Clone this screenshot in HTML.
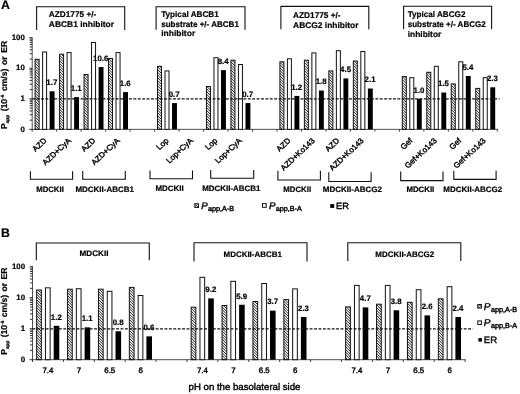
<!DOCTYPE html>
<html><head><meta charset="utf-8"><title>Figure</title>
<style>
html,body{margin:0;padding:0;background:#fff;}
svg{display:block;}
text{font-family:"Liberation Sans",Arial,sans-serif;fill:#000;text-rendering:geometricPrecision;}
</style></head><body>
<svg width="520" height="394" viewBox="0 0 520 394">
<defs><clipPath id="hc"><rect x="35.10" y="59.30" width="4.00" height="70.05"/><rect x="59.58" y="54.20" width="4.00" height="75.15"/><rect x="84.06" y="74.50" width="4.00" height="54.85"/><rect x="108.54" y="58.50" width="4.00" height="70.85"/><rect x="157.50" y="66.30" width="4.00" height="63.05"/><rect x="206.46" y="86.50" width="4.00" height="42.85"/><rect x="230.94" y="60.20" width="4.00" height="69.15"/><rect x="279.90" y="61.80" width="4.00" height="67.55"/><rect x="304.38" y="60.20" width="4.00" height="69.15"/><rect x="328.86" y="70.90" width="4.00" height="58.45"/><rect x="353.34" y="61.00" width="4.00" height="68.35"/><rect x="402.30" y="76.60" width="4.00" height="52.75"/><rect x="426.78" y="72.30" width="4.00" height="57.05"/><rect x="451.26" y="83.90" width="4.00" height="45.45"/><rect x="475.74" y="88.40" width="4.00" height="40.95"/><rect x="194.80" y="203.75" width="3.70" height="3.70"/><rect x="36.65" y="290.00" width="4.70" height="69.70"/><rect x="67.55" y="289.20" width="4.70" height="70.50"/><rect x="98.45" y="289.20" width="4.70" height="70.50"/><rect x="129.35" y="287.40" width="4.70" height="72.30"/><rect x="191.15" y="307.20" width="4.70" height="52.50"/><rect x="222.05" y="305.50" width="4.70" height="54.20"/><rect x="252.95" y="301.50" width="4.70" height="58.20"/><rect x="283.85" y="299.60" width="4.70" height="60.10"/><rect x="345.65" y="306.90" width="4.70" height="52.80"/><rect x="376.55" y="304.20" width="4.70" height="55.50"/><rect x="407.45" y="302.30" width="4.70" height="57.40"/><rect x="438.35" y="298.80" width="4.70" height="60.90"/><rect x="477.80" y="304.50" width="3.60" height="3.60"/></clipPath></defs>
<rect width="520" height="394" fill="#fff"/>
<path d="M0 -520.00L520 0.00M0 -517.30L520 2.70M0 -514.60L520 5.40M0 -511.90L520 8.10M0 -509.20L520 10.80M0 -506.50L520 13.50M0 -503.80L520 16.20M0 -501.10L520 18.90M0 -498.40L520 21.60M0 -495.70L520 24.30M0 -493.00L520 27.00M0 -490.30L520 29.70M0 -487.60L520 32.40M0 -484.90L520 35.10M0 -482.20L520 37.80M0 -479.50L520 40.50M0 -476.80L520 43.20M0 -474.10L520 45.90M0 -471.40L520 48.60M0 -468.70L520 51.30M0 -466.00L520 54.00M0 -463.30L520 56.70M0 -460.60L520 59.40M0 -457.90L520 62.10M0 -455.20L520 64.80M0 -452.50L520 67.50M0 -449.80L520 70.20M0 -447.10L520 72.90M0 -444.40L520 75.60M0 -441.70L520 78.30M0 -439.00L520 81.00M0 -436.30L520 83.70M0 -433.60L520 86.40M0 -430.90L520 89.10M0 -428.20L520 91.80M0 -425.50L520 94.50M0 -422.80L520 97.20M0 -420.10L520 99.90M0 -417.40L520 102.60M0 -414.70L520 105.30M0 -412.00L520 108.00M0 -409.30L520 110.70M0 -406.60L520 113.40M0 -403.90L520 116.10M0 -401.20L520 118.80M0 -398.50L520 121.50M0 -395.80L520 124.20M0 -393.10L520 126.90M0 -390.40L520 129.60M0 -387.70L520 132.30M0 -385.00L520 135.00M0 -382.30L520 137.70M0 -379.60L520 140.40M0 -376.90L520 143.10M0 -374.20L520 145.80M0 -371.50L520 148.50M0 -368.80L520 151.20M0 -366.10L520 153.90M0 -363.40L520 156.60M0 -360.70L520 159.30M0 -358.00L520 162.00M0 -355.30L520 164.70M0 -352.60L520 167.40M0 -349.90L520 170.10M0 -347.20L520 172.80M0 -344.50L520 175.50M0 -341.80L520 178.20M0 -339.10L520 180.90M0 -336.40L520 183.60M0 -333.70L520 186.30M0 -331.00L520 189.00M0 -328.30L520 191.70M0 -325.60L520 194.40M0 -322.90L520 197.10M0 -320.20L520 199.80M0 -317.50L520 202.50M0 -314.80L520 205.20M0 -312.10L520 207.90M0 -309.40L520 210.60M0 -306.70L520 213.30M0 -304.00L520 216.00M0 -301.30L520 218.70M0 -298.60L520 221.40M0 -295.90L520 224.10M0 -293.20L520 226.80M0 -290.50L520 229.50M0 -287.80L520 232.20M0 -285.10L520 234.90M0 -282.40L520 237.60M0 -279.70L520 240.30M0 -277.00L520 243.00M0 -274.30L520 245.70M0 -271.60L520 248.40M0 -268.90L520 251.10M0 -266.20L520 253.80M0 -263.50L520 256.50M0 -260.80L520 259.20M0 -258.10L520 261.90M0 -255.40L520 264.60M0 -252.70L520 267.30M0 -250.00L520 270.00M0 -247.30L520 272.70M0 -244.60L520 275.40M0 -241.90L520 278.10M0 -239.20L520 280.80M0 -236.50L520 283.50M0 -233.80L520 286.20M0 -231.10L520 288.90M0 -228.40L520 291.60M0 -225.70L520 294.30M0 -223.00L520 297.00M0 -220.30L520 299.70M0 -217.60L520 302.40M0 -214.90L520 305.10M0 -212.20L520 307.80M0 -209.50L520 310.50M0 -206.80L520 313.20M0 -204.10L520 315.90M0 -201.40L520 318.60M0 -198.70L520 321.30M0 -196.00L520 324.00M0 -193.30L520 326.70M0 -190.60L520 329.40M0 -187.90L520 332.10M0 -185.20L520 334.80M0 -182.50L520 337.50M0 -179.80L520 340.20M0 -177.10L520 342.90M0 -174.40L520 345.60M0 -171.70L520 348.30M0 -169.00L520 351.00M0 -166.30L520 353.70M0 -163.60L520 356.40M0 -160.90L520 359.10M0 -158.20L520 361.80M0 -155.50L520 364.50M0 -152.80L520 367.20M0 -150.10L520 369.90M0 -147.40L520 372.60M0 -144.70L520 375.30M0 -142.00L520 378.00M0 -139.30L520 380.70M0 -136.60L520 383.40M0 -133.90L520 386.10M0 -131.20L520 388.80M0 -128.50L520 391.50M0 -125.80L520 394.20M0 -123.10L520 396.90M0 -120.40L520 399.60M0 -117.70L520 402.30M0 -115.00L520 405.00M0 -112.30L520 407.70M0 -109.60L520 410.40M0 -106.90L520 413.10M0 -104.20L520 415.80M0 -101.50L520 418.50M0 -98.80L520 421.20M0 -96.10L520 423.90M0 -93.40L520 426.60M0 -90.70L520 429.30M0 -88.00L520 432.00M0 -85.30L520 434.70M0 -82.60L520 437.40M0 -79.90L520 440.10M0 -77.20L520 442.80M0 -74.50L520 445.50M0 -71.80L520 448.20M0 -69.10L520 450.90M0 -66.40L520 453.60M0 -63.70L520 456.30M0 -61.00L520 459.00M0 -58.30L520 461.70M0 -55.60L520 464.40M0 -52.90L520 467.10M0 -50.20L520 469.80M0 -47.50L520 472.50M0 -44.80L520 475.20M0 -42.10L520 477.90M0 -39.40L520 480.60M0 -36.70L520 483.30M0 -34.00L520 486.00M0 -31.30L520 488.70M0 -28.60L520 491.40M0 -25.90L520 494.10M0 -23.20L520 496.80M0 -20.50L520 499.50M0 -17.80L520 502.20M0 -15.10L520 504.90M0 -12.40L520 507.60M0 -9.70L520 510.30M0 -7.00L520 513.00M0 -4.30L520 515.70M0 -1.60L520 518.40M0 1.10L520 521.10M0 3.80L520 523.80M0 6.50L520 526.50M0 9.20L520 529.20M0 11.90L520 531.90M0 14.60L520 534.60M0 17.30L520 537.30M0 20.00L520 540.00M0 22.70L520 542.70M0 25.40L520 545.40M0 28.10L520 548.10M0 30.80L520 550.80M0 33.50L520 553.50M0 36.20L520 556.20M0 38.90L520 558.90M0 41.60L520 561.60M0 44.30L520 564.30M0 47.00L520 567.00M0 49.70L520 569.70M0 52.40L520 572.40M0 55.10L520 575.10M0 57.80L520 577.80M0 60.50L520 580.50M0 63.20L520 583.20M0 65.90L520 585.90M0 68.60L520 588.60M0 71.30L520 591.30M0 74.00L520 594.00M0 76.70L520 596.70M0 79.40L520 599.40M0 82.10L520 602.10M0 84.80L520 604.80M0 87.50L520 607.50M0 90.20L520 610.20M0 92.90L520 612.90M0 95.60L520 615.60M0 98.30L520 618.30M0 101.00L520 621.00M0 103.70L520 623.70M0 106.40L520 626.40M0 109.10L520 629.10M0 111.80L520 631.80M0 114.50L520 634.50M0 117.20L520 637.20M0 119.90L520 639.90M0 122.60L520 642.60M0 125.30L520 645.30M0 128.00L520 648.00M0 130.70L520 650.70M0 133.40L520 653.40M0 136.10L520 656.10M0 138.80L520 658.80M0 141.50L520 661.50M0 144.20L520 664.20M0 146.90L520 666.90M0 149.60L520 669.60M0 152.30L520 672.30M0 155.00L520 675.00M0 157.70L520 677.70M0 160.40L520 680.40M0 163.10L520 683.10M0 165.80L520 685.80M0 168.50L520 688.50M0 171.20L520 691.20M0 173.90L520 693.90M0 176.60L520 696.60M0 179.30L520 699.30M0 182.00L520 702.00M0 184.70L520 704.70M0 187.40L520 707.40M0 190.10L520 710.10M0 192.80L520 712.80M0 195.50L520 715.50M0 198.20L520 718.20M0 200.90L520 720.90M0 203.60L520 723.60M0 206.30L520 726.30M0 209.00L520 729.00M0 211.70L520 731.70M0 214.40L520 734.40M0 217.10L520 737.10M0 219.80L520 739.80M0 222.50L520 742.50M0 225.20L520 745.20M0 227.90L520 747.90M0 230.60L520 750.60M0 233.30L520 753.30M0 236.00L520 756.00M0 238.70L520 758.70M0 241.40L520 761.40M0 244.10L520 764.10M0 246.80L520 766.80M0 249.50L520 769.50M0 252.20L520 772.20M0 254.90L520 774.90M0 257.60L520 777.60M0 260.30L520 780.30M0 263.00L520 783.00M0 265.70L520 785.70M0 268.40L520 788.40M0 271.10L520 791.10M0 273.80L520 793.80M0 276.50L520 796.50M0 279.20L520 799.20M0 281.90L520 801.90M0 284.60L520 804.60M0 287.30L520 807.30M0 290.00L520 810.00M0 292.70L520 812.70M0 295.40L520 815.40M0 298.10L520 818.10M0 300.80L520 820.80M0 303.50L520 823.50M0 306.20L520 826.20M0 308.90L520 828.90M0 311.60L520 831.60M0 314.30L520 834.30M0 317.00L520 837.00M0 319.70L520 839.70M0 322.40L520 842.40M0 325.10L520 845.10M0 327.80L520 847.80M0 330.50L520 850.50M0 333.20L520 853.20M0 335.90L520 855.90M0 338.60L520 858.60M0 341.30L520 861.30M0 344.00L520 864.00M0 346.70L520 866.70M0 349.40L520 869.40M0 352.10L520 872.10M0 354.80L520 874.80M0 357.50L520 877.50M0 360.20L520 880.20M0 362.90L520 882.90M0 365.60L520 885.60M0 368.30L520 888.30M0 371.00L520 891.00M0 373.70L520 893.70M0 376.40L520 896.40M0 379.10L520 899.10M0 381.80L520 901.80M0 384.50L520 904.50M0 387.20L520 907.20M0 389.90L520 909.90M0 392.60L520 912.60M0 395.30L520 915.30M0 398.00L520 918.00" stroke="#111" stroke-width="0.95" fill="none" clip-path="url(#hc)"/>
<line x1="32.2" y1="37.20" x2="32.2" y2="129.85" stroke="#333" stroke-width="0.85"/>
<line x1="29.300000000000004" y1="129.35" x2="32.2" y2="129.35" stroke="#111" stroke-width="0.85"/>
<line x1="29.700000000000003" y1="120.15" x2="32.2" y2="120.15" stroke="#111" stroke-width="0.85"/>
<line x1="29.700000000000003" y1="114.77" x2="32.2" y2="114.77" stroke="#111" stroke-width="0.85"/>
<line x1="29.700000000000003" y1="110.96" x2="32.2" y2="110.96" stroke="#111" stroke-width="0.85"/>
<line x1="29.700000000000003" y1="108.00" x2="32.2" y2="108.00" stroke="#111" stroke-width="0.85"/>
<line x1="29.700000000000003" y1="105.58" x2="32.2" y2="105.58" stroke="#111" stroke-width="0.85"/>
<line x1="29.700000000000003" y1="103.53" x2="32.2" y2="103.53" stroke="#111" stroke-width="0.85"/>
<line x1="29.700000000000003" y1="101.76" x2="32.2" y2="101.76" stroke="#111" stroke-width="0.85"/>
<line x1="29.700000000000003" y1="100.20" x2="32.2" y2="100.20" stroke="#111" stroke-width="0.85"/>
<line x1="29.300000000000004" y1="98.80" x2="32.2" y2="98.80" stroke="#111" stroke-width="0.85"/>
<line x1="29.700000000000003" y1="89.60" x2="32.2" y2="89.60" stroke="#111" stroke-width="0.85"/>
<line x1="29.700000000000003" y1="84.22" x2="32.2" y2="84.22" stroke="#111" stroke-width="0.85"/>
<line x1="29.700000000000003" y1="80.41" x2="32.2" y2="80.41" stroke="#111" stroke-width="0.85"/>
<line x1="29.700000000000003" y1="77.45" x2="32.2" y2="77.45" stroke="#111" stroke-width="0.85"/>
<line x1="29.700000000000003" y1="75.03" x2="32.2" y2="75.03" stroke="#111" stroke-width="0.85"/>
<line x1="29.700000000000003" y1="72.98" x2="32.2" y2="72.98" stroke="#111" stroke-width="0.85"/>
<line x1="29.700000000000003" y1="71.21" x2="32.2" y2="71.21" stroke="#111" stroke-width="0.85"/>
<line x1="29.700000000000003" y1="69.65" x2="32.2" y2="69.65" stroke="#111" stroke-width="0.85"/>
<line x1="29.300000000000004" y1="68.25" x2="32.2" y2="68.25" stroke="#111" stroke-width="0.85"/>
<line x1="29.700000000000003" y1="59.05" x2="32.2" y2="59.05" stroke="#111" stroke-width="0.85"/>
<line x1="29.700000000000003" y1="53.67" x2="32.2" y2="53.67" stroke="#111" stroke-width="0.85"/>
<line x1="29.700000000000003" y1="49.86" x2="32.2" y2="49.86" stroke="#111" stroke-width="0.85"/>
<line x1="29.700000000000003" y1="46.90" x2="32.2" y2="46.90" stroke="#111" stroke-width="0.85"/>
<line x1="29.700000000000003" y1="44.48" x2="32.2" y2="44.48" stroke="#111" stroke-width="0.85"/>
<line x1="29.700000000000003" y1="42.43" x2="32.2" y2="42.43" stroke="#111" stroke-width="0.85"/>
<line x1="29.700000000000003" y1="40.66" x2="32.2" y2="40.66" stroke="#111" stroke-width="0.85"/>
<line x1="29.700000000000003" y1="39.10" x2="32.2" y2="39.10" stroke="#111" stroke-width="0.85"/>
<line x1="29.300000000000004" y1="37.70" x2="32.2" y2="37.70" stroke="#111" stroke-width="0.85"/>
<text transform="translate(24.90 39.94) scale(1.0 1)" font-size="7.9" font-weight="bold" text-anchor="end" stroke="#000" stroke-width="0.2">100</text>
<text transform="translate(24.90 70.49) scale(1.0 1)" font-size="7.9" font-weight="bold" text-anchor="end" stroke="#000" stroke-width="0.2">10</text>
<text transform="translate(24.90 101.04) scale(1.0 1)" font-size="7.9" font-weight="bold" text-anchor="end" stroke="#000" stroke-width="0.2">1</text>
<text transform="translate(24.90 131.59) scale(1.0 1)" font-size="7.9" font-weight="bold" text-anchor="end" stroke="#000" stroke-width="0.2">0</text>
<line x1="31.700000000000003" y1="129.35" x2="497.82" y2="129.35" stroke="#333" stroke-width="0.85"/>
<line x1="32.20" y1="129.35" x2="32.20" y2="131.65" stroke="#222" stroke-width="0.85"/>
<line x1="56.68" y1="129.35" x2="56.68" y2="131.65" stroke="#222" stroke-width="0.85"/>
<line x1="81.16" y1="129.35" x2="81.16" y2="131.65" stroke="#222" stroke-width="0.85"/>
<line x1="105.64" y1="129.35" x2="105.64" y2="131.65" stroke="#222" stroke-width="0.85"/>
<line x1="130.12" y1="129.35" x2="130.12" y2="131.65" stroke="#222" stroke-width="0.85"/>
<line x1="154.60" y1="129.35" x2="154.60" y2="131.65" stroke="#222" stroke-width="0.85"/>
<line x1="179.08" y1="129.35" x2="179.08" y2="131.65" stroke="#222" stroke-width="0.85"/>
<line x1="203.56" y1="129.35" x2="203.56" y2="131.65" stroke="#222" stroke-width="0.85"/>
<line x1="228.04" y1="129.35" x2="228.04" y2="131.65" stroke="#222" stroke-width="0.85"/>
<line x1="252.52" y1="129.35" x2="252.52" y2="131.65" stroke="#222" stroke-width="0.85"/>
<line x1="277.00" y1="129.35" x2="277.00" y2="131.65" stroke="#222" stroke-width="0.85"/>
<line x1="301.48" y1="129.35" x2="301.48" y2="131.65" stroke="#222" stroke-width="0.85"/>
<line x1="325.96" y1="129.35" x2="325.96" y2="131.65" stroke="#222" stroke-width="0.85"/>
<line x1="350.44" y1="129.35" x2="350.44" y2="131.65" stroke="#222" stroke-width="0.85"/>
<line x1="374.92" y1="129.35" x2="374.92" y2="131.65" stroke="#222" stroke-width="0.85"/>
<line x1="399.40" y1="129.35" x2="399.40" y2="131.65" stroke="#222" stroke-width="0.85"/>
<line x1="423.88" y1="129.35" x2="423.88" y2="131.65" stroke="#222" stroke-width="0.85"/>
<line x1="448.36" y1="129.35" x2="448.36" y2="131.65" stroke="#222" stroke-width="0.85"/>
<line x1="472.84" y1="129.35" x2="472.84" y2="131.65" stroke="#222" stroke-width="0.85"/>
<line x1="497.32" y1="129.35" x2="497.32" y2="131.65" stroke="#222" stroke-width="0.85"/>
<rect x="35.10" y="59.30" width="4.00" height="70.05" fill="none" stroke="#111" stroke-width="1.0"/>
<rect x="42.60" y="52.00" width="4.00" height="77.35" fill="#fff" stroke="#111" stroke-width="1.0"/>
<rect x="49.65" y="91.31" width="4.90" height="38.04" fill="#000"/>
<text transform="translate(47.14 141.20) scale(1.025 0.96) rotate(-45)" font-size="8.0" text-anchor="end" stroke="#000" stroke-width="0.4">AZD</text>
<rect x="59.58" y="54.20" width="4.00" height="75.15" fill="none" stroke="#111" stroke-width="1.0"/>
<rect x="67.08" y="52.60" width="4.00" height="76.75" fill="#fff" stroke="#111" stroke-width="1.0"/>
<rect x="74.13" y="97.09" width="4.90" height="32.26" fill="#000"/>
<text transform="translate(71.54 141.20) scale(1.025 0.96) rotate(-45)" font-size="8.0" text-anchor="end" stroke="#000" stroke-width="0.4">AZD+CyA</text>
<rect x="84.06" y="74.50" width="4.00" height="54.85" fill="none" stroke="#111" stroke-width="1.0"/>
<rect x="91.56" y="42.50" width="4.00" height="86.85" fill="#fff" stroke="#111" stroke-width="1.0"/>
<rect x="98.61" y="67.03" width="4.90" height="62.32" fill="#000"/>
<text transform="translate(95.94 141.20) scale(1.025 0.96) rotate(-45)" font-size="8.0" text-anchor="end" stroke="#000" stroke-width="0.4">AZD</text>
<rect x="108.54" y="58.50" width="4.00" height="70.85" fill="none" stroke="#111" stroke-width="1.0"/>
<rect x="116.04" y="52.60" width="4.00" height="76.75" fill="#fff" stroke="#111" stroke-width="1.0"/>
<rect x="123.09" y="92.11" width="4.90" height="37.24" fill="#000"/>
<text transform="translate(120.34 141.20) scale(1.025 0.96) rotate(-45)" font-size="8.0" text-anchor="end" stroke="#000" stroke-width="0.4">AZD+CyA</text>
<rect x="157.50" y="66.30" width="4.00" height="63.05" fill="none" stroke="#111" stroke-width="1.0"/>
<rect x="165.00" y="70.90" width="4.00" height="58.45" fill="#fff" stroke="#111" stroke-width="1.0"/>
<rect x="172.05" y="103.08" width="4.90" height="26.27" fill="#000"/>
<text transform="translate(169.14 141.20) scale(1.025 0.96) rotate(-45)" font-size="8.0" text-anchor="end" stroke="#000" stroke-width="0.4">Lop</text>
<text transform="translate(193.54 141.20) scale(1.025 0.96) rotate(-45)" font-size="8.0" text-anchor="end" stroke="#000" stroke-width="0.4">Lop+CyA</text>
<rect x="206.46" y="86.50" width="4.00" height="42.85" fill="none" stroke="#111" stroke-width="1.0"/>
<rect x="213.96" y="57.70" width="4.00" height="71.65" fill="#fff" stroke="#111" stroke-width="1.0"/>
<rect x="221.01" y="70.11" width="4.90" height="59.24" fill="#000"/>
<text transform="translate(217.94 141.20) scale(1.025 0.96) rotate(-45)" font-size="8.0" text-anchor="end" stroke="#000" stroke-width="0.4">Lop</text>
<rect x="230.94" y="60.20" width="4.00" height="69.15" fill="none" stroke="#111" stroke-width="1.0"/>
<rect x="238.44" y="64.50" width="4.00" height="64.85" fill="#fff" stroke="#111" stroke-width="1.0"/>
<rect x="245.49" y="103.08" width="4.90" height="26.27" fill="#000"/>
<text transform="translate(242.34 141.20) scale(1.025 0.96) rotate(-45)" font-size="8.0" text-anchor="end" stroke="#000" stroke-width="0.4">Lop+CyA</text>
<rect x="279.90" y="61.80" width="4.00" height="67.55" fill="none" stroke="#111" stroke-width="1.0"/>
<rect x="287.40" y="58.80" width="4.00" height="70.55" fill="#fff" stroke="#111" stroke-width="1.0"/>
<rect x="294.45" y="95.93" width="4.90" height="33.42" fill="#000"/>
<text transform="translate(291.14 141.20) scale(1.025 0.96) rotate(-45)" font-size="8.0" text-anchor="end" stroke="#000" stroke-width="0.4">AZD</text>
<rect x="304.38" y="60.20" width="4.00" height="69.15" fill="none" stroke="#111" stroke-width="1.0"/>
<rect x="311.88" y="52.90" width="4.00" height="76.45" fill="#fff" stroke="#111" stroke-width="1.0"/>
<rect x="318.93" y="90.55" width="4.90" height="38.80" fill="#000"/>
<text transform="translate(315.54 141.20) scale(1.025 0.96) rotate(-45)" font-size="8.0" text-anchor="end" stroke="#000" stroke-width="0.4">AZD+Ko143</text>
<rect x="328.86" y="70.90" width="4.00" height="58.45" fill="none" stroke="#111" stroke-width="1.0"/>
<rect x="336.36" y="50.70" width="4.00" height="78.65" fill="#fff" stroke="#111" stroke-width="1.0"/>
<rect x="343.41" y="78.39" width="4.90" height="50.96" fill="#000"/>
<text transform="translate(339.94 141.20) scale(1.025 0.96) rotate(-45)" font-size="8.0" text-anchor="end" stroke="#000" stroke-width="0.4">AZD</text>
<rect x="353.34" y="61.00" width="4.00" height="68.35" fill="none" stroke="#111" stroke-width="1.0"/>
<rect x="360.84" y="51.50" width="4.00" height="77.85" fill="#fff" stroke="#111" stroke-width="1.0"/>
<rect x="367.89" y="88.51" width="4.90" height="40.84" fill="#000"/>
<text transform="translate(364.34 141.20) scale(1.025 0.96) rotate(-45)" font-size="8.0" text-anchor="end" stroke="#000" stroke-width="0.4">AZD+Ko143</text>
<rect x="402.30" y="76.60" width="4.00" height="52.75" fill="none" stroke="#111" stroke-width="1.0"/>
<rect x="409.80" y="77.70" width="4.00" height="51.65" fill="#fff" stroke="#111" stroke-width="1.0"/>
<rect x="416.85" y="98.85" width="4.90" height="30.50" fill="#000"/>
<text transform="translate(413.14 141.20) scale(1.025 0.96) rotate(-45)" font-size="8.0" text-anchor="end" stroke="#000" stroke-width="0.4">Gef</text>
<rect x="426.78" y="72.30" width="4.00" height="57.05" fill="none" stroke="#111" stroke-width="1.0"/>
<rect x="434.28" y="66.30" width="4.00" height="63.05" fill="#fff" stroke="#111" stroke-width="1.0"/>
<rect x="441.33" y="92.55" width="4.90" height="36.80" fill="#000"/>
<text transform="translate(437.54 141.20) scale(1.025 0.96) rotate(-45)" font-size="8.0" text-anchor="end" stroke="#000" stroke-width="0.4">Gef+Ko143</text>
<rect x="451.26" y="83.90" width="4.00" height="45.45" fill="none" stroke="#111" stroke-width="1.0"/>
<rect x="458.76" y="61.80" width="4.00" height="67.55" fill="#fff" stroke="#111" stroke-width="1.0"/>
<rect x="465.81" y="75.98" width="4.90" height="53.37" fill="#000"/>
<text transform="translate(461.94 141.20) scale(1.025 0.96) rotate(-45)" font-size="8.0" text-anchor="end" stroke="#000" stroke-width="0.4">Gef</text>
<rect x="475.74" y="88.40" width="4.00" height="40.95" fill="none" stroke="#111" stroke-width="1.0"/>
<rect x="483.24" y="77.70" width="4.00" height="51.65" fill="#fff" stroke="#111" stroke-width="1.0"/>
<rect x="490.29" y="87.30" width="4.90" height="42.05" fill="#000"/>
<text transform="translate(486.34 141.20) scale(1.025 0.96) rotate(-45)" font-size="8.0" text-anchor="end" stroke="#000" stroke-width="0.4">Gef+Ko143</text>
<line x1="32.2" y1="98.90" x2="499.5" y2="98.90" stroke="#111" stroke-width="1.25" stroke-dasharray="2.9 1.5"/>
<text transform="translate(51.80 85.06) scale(1.0 1)" font-size="7.85" font-weight="bold" text-anchor="middle" stroke="#000" stroke-width="0.2">1.7</text>
<text transform="translate(76.28 90.84) scale(1.0 1)" font-size="7.85" font-weight="bold" text-anchor="middle" stroke="#000" stroke-width="0.2">1.1</text>
<text transform="translate(100.76 60.78) scale(1.0 1)" font-size="7.85" font-weight="bold" text-anchor="middle" stroke="#000" stroke-width="0.2">10.6</text>
<text transform="translate(125.24 85.86) scale(1.0 1)" font-size="7.85" font-weight="bold" text-anchor="middle" stroke="#000" stroke-width="0.2">1.6</text>
<text transform="translate(174.20 96.83) scale(1.0 1)" font-size="7.85" font-weight="bold" text-anchor="middle" stroke="#000" stroke-width="0.2">0.7</text>
<text transform="translate(223.16 63.86) scale(1.0 1)" font-size="7.85" font-weight="bold" text-anchor="middle" stroke="#000" stroke-width="0.2">8.4</text>
<text transform="translate(247.64 96.83) scale(1.0 1)" font-size="7.85" font-weight="bold" text-anchor="middle" stroke="#000" stroke-width="0.2">0.7</text>
<text transform="translate(296.60 89.68) scale(1.0 1)" font-size="7.85" font-weight="bold" text-anchor="middle" stroke="#000" stroke-width="0.2">1.2</text>
<text transform="translate(321.08 84.30) scale(1.0 1)" font-size="7.85" font-weight="bold" text-anchor="middle" stroke="#000" stroke-width="0.2">1.8</text>
<text transform="translate(345.56 72.14) scale(1.0 1)" font-size="7.85" font-weight="bold" text-anchor="middle" stroke="#000" stroke-width="0.2">4.5</text>
<text transform="translate(370.04 82.26) scale(1.0 1)" font-size="7.85" font-weight="bold" text-anchor="middle" stroke="#000" stroke-width="0.2">2.1</text>
<text transform="translate(419.00 92.60) scale(1.0 1)" font-size="7.85" font-weight="bold" text-anchor="middle" stroke="#000" stroke-width="0.2">1.0</text>
<text transform="translate(443.48 86.30) scale(1.0 1)" font-size="7.85" font-weight="bold" text-anchor="middle" stroke="#000" stroke-width="0.2">1.5</text>
<text transform="translate(467.96 69.73) scale(1.0 1)" font-size="7.85" font-weight="bold" text-anchor="middle" stroke="#000" stroke-width="0.2">5.4</text>
<text transform="translate(492.44 81.05) scale(1.0 1)" font-size="7.85" font-weight="bold" text-anchor="middle" stroke="#000" stroke-width="0.2">2.3</text>
<path d="M36.60 30.00V6.70H124.70V30.00" fill="none" stroke="#111" stroke-width="1.1"/>
<text transform="translate(48.80 16.90) scale(1.0 1)" font-size="8.3" font-weight="bold" text-anchor="start" stroke="#000" stroke-width="0.2" textLength="47.50" lengthAdjust="spacingAndGlyphs">AZD1775 +/-</text>
<text transform="translate(48.80 26.50) scale(1.0 1)" font-size="8.3" font-weight="bold" text-anchor="start" stroke="#000" stroke-width="0.2" textLength="65.20" lengthAdjust="spacingAndGlyphs">ABCB1 inhibitor</text>
<path d="M156.10 29.80V6.70H245.00V29.80" fill="none" stroke="#111" stroke-width="1.1"/>
<text transform="translate(161.20 16.90) scale(1.0 1)" font-size="8.3" font-weight="bold" text-anchor="start" stroke="#000" stroke-width="0.2" textLength="57.60" lengthAdjust="spacingAndGlyphs">Typical ABCB1</text>
<text transform="translate(161.20 26.50) scale(1.0 1)" font-size="8.3" font-weight="bold" text-anchor="start" stroke="#000" stroke-width="0.2" textLength="77.70" lengthAdjust="spacingAndGlyphs">substrate +/- ABCB1</text>
<text transform="translate(161.20 36.20) scale(1.0 1)" font-size="8.3" font-weight="bold" text-anchor="start" stroke="#000" stroke-width="0.2" textLength="34.00" lengthAdjust="spacingAndGlyphs">inhibitor</text>
<path d="M280.90 29.30V6.40H368.80V29.30" fill="none" stroke="#111" stroke-width="1.1"/>
<text transform="translate(293.10 18.30) scale(1.0 1)" font-size="8.3" font-weight="bold" text-anchor="start" stroke="#000" stroke-width="0.2" textLength="47.50" lengthAdjust="spacingAndGlyphs">AZD1775 +/-</text>
<text transform="translate(293.10 27.90) scale(1.0 1)" font-size="8.3" font-weight="bold" text-anchor="start" stroke="#000" stroke-width="0.2" textLength="65.40" lengthAdjust="spacingAndGlyphs">ABCG2 inhibitor</text>
<path d="M403.60 29.30V6.30H491.60V29.30" fill="none" stroke="#111" stroke-width="1.1"/>
<text transform="translate(407.70 17.30) scale(1.0 1)" font-size="8.3" font-weight="bold" text-anchor="start" stroke="#000" stroke-width="0.2" textLength="57.70" lengthAdjust="spacingAndGlyphs">Typical ABCG2</text>
<text transform="translate(407.70 26.90) scale(1.0 1)" font-size="8.3" font-weight="bold" text-anchor="start" stroke="#000" stroke-width="0.2" textLength="78.00" lengthAdjust="spacingAndGlyphs">substrate +/- ABCG2</text>
<text transform="translate(407.70 36.50) scale(1.0 1)" font-size="8.3" font-weight="bold" text-anchor="start" stroke="#000" stroke-width="0.2" textLength="33.60" lengthAdjust="spacingAndGlyphs">inhibitor</text>
<path d="M30.40 171.30V179.30H72.60V171.30" fill="none" stroke="#111" stroke-width="1.1"/>
<text transform="translate(36.20 191.50) scale(1.0 1)" font-size="7.9" font-weight="bold" text-anchor="start" stroke="#000" stroke-width="0.2" textLength="27.60" lengthAdjust="spacingAndGlyphs">MDCKII</text>
<path d="M82.70 171.00V179.30H125.30V171.00" fill="none" stroke="#111" stroke-width="1.1"/>
<text transform="translate(75.40 191.50) scale(1.0 1)" font-size="7.9" font-weight="bold" text-anchor="start" stroke="#000" stroke-width="0.2" textLength="58.50" lengthAdjust="spacingAndGlyphs">MDCKII-ABCB1</text>
<path d="M150.00 170.50V178.70H192.50V170.50" fill="none" stroke="#111" stroke-width="1.1"/>
<text transform="translate(155.40 190.70) scale(1.0 1)" font-size="7.9" font-weight="bold" text-anchor="start" stroke="#000" stroke-width="0.2" textLength="28.30" lengthAdjust="spacingAndGlyphs">MDCKII</text>
<path d="M210.70 170.00V178.20H253.70V170.00" fill="none" stroke="#111" stroke-width="1.1"/>
<text transform="translate(202.20 190.70) scale(1.0 1)" font-size="7.9" font-weight="bold" text-anchor="start" stroke="#000" stroke-width="0.2" textLength="58.20" lengthAdjust="spacingAndGlyphs">MDCKII-ABCB1</text>
<path d="M277.90 170.80V180.00H320.40V170.80" fill="none" stroke="#111" stroke-width="1.1"/>
<text transform="translate(283.30 192.20) scale(1.0 1)" font-size="7.9" font-weight="bold" text-anchor="start" stroke="#000" stroke-width="0.2" textLength="27.80" lengthAdjust="spacingAndGlyphs">MDCKII</text>
<path d="M328.80 172.20V181.50H371.10V172.20" fill="none" stroke="#111" stroke-width="1.1"/>
<text transform="translate(322.80 192.20) scale(1.0 1)" font-size="7.9" font-weight="bold" text-anchor="start" stroke="#000" stroke-width="0.2" textLength="59.20" lengthAdjust="spacingAndGlyphs">MDCKII-ABCG2</text>
<path d="M400.70 171.40V180.60H443.00V171.40" fill="none" stroke="#111" stroke-width="1.1"/>
<text transform="translate(406.40 192.30) scale(1.0 1)" font-size="7.9" font-weight="bold" text-anchor="start" stroke="#000" stroke-width="0.2" textLength="27.90" lengthAdjust="spacingAndGlyphs">MDCKII</text>
<path d="M453.80 170.80V179.40H496.10V170.80" fill="none" stroke="#111" stroke-width="1.1"/>
<text transform="translate(443.30 192.30) scale(1.0 1)" font-size="7.9" font-weight="bold" text-anchor="start" stroke="#000" stroke-width="0.2" textLength="58.90" lengthAdjust="spacingAndGlyphs">MDCKII-ABCG2</text>
<rect x="194.80" y="203.75" width="3.7" height="3.7" fill="none" stroke="#111" stroke-width="1.0"/>
<text x="201.20" y="209.00" font-size="9.6" font-style="italic" stroke="#000" stroke-width="0.4">P</text>
<text x="208.00" y="211.30" font-size="7.2" stroke="#000" stroke-width="0.4" textLength="26.2" lengthAdjust="spacingAndGlyphs">app,A-B</text>
<rect x="262.50" y="203.60" width="3.7" height="3.7" fill="#fff" stroke="#111" stroke-width="1.0"/>
<text x="268.90" y="208.80" font-size="9.6" font-style="italic" stroke="#000" stroke-width="0.4">P</text>
<text x="275.70" y="211.10" font-size="7.2" stroke="#000" stroke-width="0.4" textLength="26.0" lengthAdjust="spacingAndGlyphs">app,B-A</text>
<rect x="330.2" y="204.1" width="4.0" height="3.8" fill="#000"/>
<text transform="translate(336.00 209.40) scale(1.03 1)" font-size="9.0" font-weight="normal" text-anchor="start" stroke="#000" stroke-width="0.4">ER</text>
<text transform="translate(1.00 9.40) scale(1.0 1)" font-size="12.3" font-weight="bold" text-anchor="start" stroke="#000" stroke-width="0.2">A</text>
<text transform="translate(1.00 236.90) scale(1.0 1)" font-size="12.3" font-weight="bold" text-anchor="start" stroke="#000" stroke-width="0.2">B</text>
<text transform="translate(7.10 129.00) rotate(-90) scale(1.0 1)" font-size="8.6" font-weight="bold" stroke="#000" stroke-width="0.2" word-spacing="1.2">P<tspan font-size="4.73" dy="2.15">app</tspan><tspan dy="-2.15"> (10</tspan><tspan font-size="4.73" dy="-3.44">-6</tspan><tspan dy="3.44"> cm/s) or ER</tspan></text>
<text transform="translate(7.30 354.80) rotate(-90) scale(1.0 1)" font-size="8.6" font-weight="bold" stroke="#000" stroke-width="0.2" word-spacing="1.0">P<tspan font-size="4.73" dy="2.15">app</tspan><tspan dy="-2.15"> (10</tspan><tspan font-size="4.73" dy="-3.44">-6</tspan><tspan dy="3.44"> cm/s) or ER</tspan></text>
<line x1="32.5" y1="266.20" x2="32.5" y2="360.20" stroke="#333" stroke-width="0.85"/>
<line x1="29.6" y1="359.70" x2="32.5" y2="359.70" stroke="#111" stroke-width="0.85"/>
<line x1="30.0" y1="350.37" x2="32.5" y2="350.37" stroke="#111" stroke-width="0.85"/>
<line x1="30.0" y1="344.91" x2="32.5" y2="344.91" stroke="#111" stroke-width="0.85"/>
<line x1="30.0" y1="341.04" x2="32.5" y2="341.04" stroke="#111" stroke-width="0.85"/>
<line x1="30.0" y1="338.03" x2="32.5" y2="338.03" stroke="#111" stroke-width="0.85"/>
<line x1="30.0" y1="335.58" x2="32.5" y2="335.58" stroke="#111" stroke-width="0.85"/>
<line x1="30.0" y1="333.50" x2="32.5" y2="333.50" stroke="#111" stroke-width="0.85"/>
<line x1="30.0" y1="331.70" x2="32.5" y2="331.70" stroke="#111" stroke-width="0.85"/>
<line x1="30.0" y1="330.12" x2="32.5" y2="330.12" stroke="#111" stroke-width="0.85"/>
<line x1="29.6" y1="328.70" x2="32.5" y2="328.70" stroke="#111" stroke-width="0.85"/>
<line x1="30.0" y1="319.37" x2="32.5" y2="319.37" stroke="#111" stroke-width="0.85"/>
<line x1="30.0" y1="313.91" x2="32.5" y2="313.91" stroke="#111" stroke-width="0.85"/>
<line x1="30.0" y1="310.04" x2="32.5" y2="310.04" stroke="#111" stroke-width="0.85"/>
<line x1="30.0" y1="307.03" x2="32.5" y2="307.03" stroke="#111" stroke-width="0.85"/>
<line x1="30.0" y1="304.58" x2="32.5" y2="304.58" stroke="#111" stroke-width="0.85"/>
<line x1="30.0" y1="302.50" x2="32.5" y2="302.50" stroke="#111" stroke-width="0.85"/>
<line x1="30.0" y1="300.70" x2="32.5" y2="300.70" stroke="#111" stroke-width="0.85"/>
<line x1="30.0" y1="299.12" x2="32.5" y2="299.12" stroke="#111" stroke-width="0.85"/>
<line x1="29.6" y1="297.70" x2="32.5" y2="297.70" stroke="#111" stroke-width="0.85"/>
<line x1="30.0" y1="288.37" x2="32.5" y2="288.37" stroke="#111" stroke-width="0.85"/>
<line x1="30.0" y1="282.91" x2="32.5" y2="282.91" stroke="#111" stroke-width="0.85"/>
<line x1="30.0" y1="279.04" x2="32.5" y2="279.04" stroke="#111" stroke-width="0.85"/>
<line x1="30.0" y1="276.03" x2="32.5" y2="276.03" stroke="#111" stroke-width="0.85"/>
<line x1="30.0" y1="273.58" x2="32.5" y2="273.58" stroke="#111" stroke-width="0.85"/>
<line x1="30.0" y1="271.50" x2="32.5" y2="271.50" stroke="#111" stroke-width="0.85"/>
<line x1="30.0" y1="269.70" x2="32.5" y2="269.70" stroke="#111" stroke-width="0.85"/>
<line x1="30.0" y1="268.12" x2="32.5" y2="268.12" stroke="#111" stroke-width="0.85"/>
<line x1="29.6" y1="266.70" x2="32.5" y2="266.70" stroke="#111" stroke-width="0.85"/>
<text transform="translate(25.10 268.94) scale(1.0 1)" font-size="7.9" font-weight="bold" text-anchor="end" stroke="#000" stroke-width="0.2">100</text>
<text transform="translate(25.10 299.94) scale(1.0 1)" font-size="7.9" font-weight="bold" text-anchor="end" stroke="#000" stroke-width="0.2">10</text>
<text transform="translate(25.10 330.94) scale(1.0 1)" font-size="7.9" font-weight="bold" text-anchor="end" stroke="#000" stroke-width="0.2">1</text>
<text transform="translate(25.10 361.94) scale(1.0 1)" font-size="7.9" font-weight="bold" text-anchor="end" stroke="#000" stroke-width="0.2">0</text>
<line x1="32.0" y1="359.70" x2="465.60" y2="359.70" stroke="#333" stroke-width="0.85"/>
<line x1="32.50" y1="359.70" x2="32.50" y2="362.00" stroke="#222" stroke-width="0.85"/>
<line x1="63.40" y1="359.70" x2="63.40" y2="362.00" stroke="#222" stroke-width="0.85"/>
<line x1="94.30" y1="359.70" x2="94.30" y2="362.00" stroke="#222" stroke-width="0.85"/>
<line x1="125.20" y1="359.70" x2="125.20" y2="362.00" stroke="#222" stroke-width="0.85"/>
<line x1="156.10" y1="359.70" x2="156.10" y2="362.00" stroke="#222" stroke-width="0.85"/>
<line x1="187.00" y1="359.70" x2="187.00" y2="362.00" stroke="#222" stroke-width="0.85"/>
<line x1="217.90" y1="359.70" x2="217.90" y2="362.00" stroke="#222" stroke-width="0.85"/>
<line x1="248.80" y1="359.70" x2="248.80" y2="362.00" stroke="#222" stroke-width="0.85"/>
<line x1="279.70" y1="359.70" x2="279.70" y2="362.00" stroke="#222" stroke-width="0.85"/>
<line x1="310.60" y1="359.70" x2="310.60" y2="362.00" stroke="#222" stroke-width="0.85"/>
<line x1="341.50" y1="359.70" x2="341.50" y2="362.00" stroke="#222" stroke-width="0.85"/>
<line x1="372.40" y1="359.70" x2="372.40" y2="362.00" stroke="#222" stroke-width="0.85"/>
<line x1="403.30" y1="359.70" x2="403.30" y2="362.00" stroke="#222" stroke-width="0.85"/>
<line x1="434.20" y1="359.70" x2="434.20" y2="362.00" stroke="#222" stroke-width="0.85"/>
<line x1="465.10" y1="359.70" x2="465.10" y2="362.00" stroke="#222" stroke-width="0.85"/>
<rect x="36.65" y="290.00" width="4.70" height="69.70" fill="none" stroke="#111" stroke-width="1.0"/>
<rect x="45.45" y="287.80" width="4.70" height="71.90" fill="#fff" stroke="#111" stroke-width="1.0"/>
<rect x="53.70" y="325.80" width="5.60" height="33.90" fill="#000"/>
<text transform="translate(47.95 373.20) scale(1.0 1)" font-size="7.9" font-weight="normal" text-anchor="middle" stroke="#000" stroke-width="0.4">7.4</text>
<rect x="67.55" y="289.20" width="4.70" height="70.50" fill="none" stroke="#111" stroke-width="1.0"/>
<rect x="76.35" y="288.70" width="4.70" height="71.00" fill="#fff" stroke="#111" stroke-width="1.0"/>
<rect x="84.60" y="327.35" width="5.60" height="32.35" fill="#000"/>
<text transform="translate(78.85 373.20) scale(1.0 1)" font-size="7.9" font-weight="normal" text-anchor="middle" stroke="#000" stroke-width="0.4">7</text>
<rect x="98.45" y="289.20" width="4.70" height="70.50" fill="none" stroke="#111" stroke-width="1.0"/>
<rect x="107.25" y="291.30" width="4.70" height="68.40" fill="#fff" stroke="#111" stroke-width="1.0"/>
<rect x="115.50" y="331.25" width="5.60" height="28.45" fill="#000"/>
<text transform="translate(109.75 373.20) scale(1.0 1)" font-size="7.9" font-weight="normal" text-anchor="middle" stroke="#000" stroke-width="0.4">6.5</text>
<rect x="129.35" y="287.40" width="4.70" height="72.30" fill="none" stroke="#111" stroke-width="1.0"/>
<rect x="138.15" y="295.50" width="4.70" height="64.20" fill="#fff" stroke="#111" stroke-width="1.0"/>
<rect x="146.40" y="336.35" width="5.60" height="23.35" fill="#000"/>
<text transform="translate(140.65 373.20) scale(1.0 1)" font-size="7.9" font-weight="normal" text-anchor="middle" stroke="#000" stroke-width="0.4">6</text>
<rect x="191.15" y="307.20" width="4.70" height="52.50" fill="none" stroke="#111" stroke-width="1.0"/>
<rect x="199.95" y="277.30" width="4.70" height="82.40" fill="#fff" stroke="#111" stroke-width="1.0"/>
<rect x="208.20" y="298.37" width="5.60" height="61.33" fill="#000"/>
<text transform="translate(202.45 373.20) scale(1.0 1)" font-size="7.9" font-weight="normal" text-anchor="middle" stroke="#000" stroke-width="0.4">7.4</text>
<rect x="222.05" y="305.50" width="4.70" height="54.20" fill="none" stroke="#111" stroke-width="1.0"/>
<rect x="230.85" y="281.30" width="4.70" height="78.40" fill="#fff" stroke="#111" stroke-width="1.0"/>
<rect x="239.10" y="304.75" width="5.60" height="54.95" fill="#000"/>
<text transform="translate(233.35 373.20) scale(1.0 1)" font-size="7.9" font-weight="normal" text-anchor="middle" stroke="#000" stroke-width="0.4">7</text>
<rect x="252.95" y="301.50" width="4.70" height="58.20" fill="none" stroke="#111" stroke-width="1.0"/>
<rect x="261.75" y="283.50" width="4.70" height="76.20" fill="#fff" stroke="#111" stroke-width="1.0"/>
<rect x="270.00" y="310.64" width="5.60" height="49.06" fill="#000"/>
<text transform="translate(264.25 373.20) scale(1.0 1)" font-size="7.9" font-weight="normal" text-anchor="middle" stroke="#000" stroke-width="0.4">6.5</text>
<rect x="283.85" y="299.60" width="4.70" height="60.10" fill="none" stroke="#111" stroke-width="1.0"/>
<rect x="292.65" y="288.90" width="4.70" height="70.80" fill="#fff" stroke="#111" stroke-width="1.0"/>
<rect x="300.90" y="317.04" width="5.60" height="42.66" fill="#000"/>
<text transform="translate(295.15 373.20) scale(1.0 1)" font-size="7.9" font-weight="normal" text-anchor="middle" stroke="#000" stroke-width="0.4">6</text>
<rect x="345.65" y="306.90" width="4.70" height="52.80" fill="none" stroke="#111" stroke-width="1.0"/>
<rect x="354.45" y="285.40" width="4.70" height="74.30" fill="#fff" stroke="#111" stroke-width="1.0"/>
<rect x="362.70" y="307.41" width="5.60" height="52.29" fill="#000"/>
<text transform="translate(356.95 373.20) scale(1.0 1)" font-size="7.9" font-weight="normal" text-anchor="middle" stroke="#000" stroke-width="0.4">7.4</text>
<rect x="376.55" y="304.20" width="4.70" height="55.50" fill="none" stroke="#111" stroke-width="1.0"/>
<rect x="385.35" y="285.40" width="4.70" height="74.30" fill="#fff" stroke="#111" stroke-width="1.0"/>
<rect x="393.60" y="310.28" width="5.60" height="49.42" fill="#000"/>
<text transform="translate(387.85 373.20) scale(1.0 1)" font-size="7.9" font-weight="normal" text-anchor="middle" stroke="#000" stroke-width="0.4">7</text>
<rect x="407.45" y="302.30" width="4.70" height="57.40" fill="none" stroke="#111" stroke-width="1.0"/>
<rect x="416.25" y="289.70" width="4.70" height="70.00" fill="#fff" stroke="#111" stroke-width="1.0"/>
<rect x="424.50" y="315.39" width="5.60" height="44.31" fill="#000"/>
<text transform="translate(418.75 373.20) scale(1.0 1)" font-size="7.9" font-weight="normal" text-anchor="middle" stroke="#000" stroke-width="0.4">6.5</text>
<rect x="438.35" y="298.80" width="4.70" height="60.90" fill="none" stroke="#111" stroke-width="1.0"/>
<rect x="447.15" y="286.70" width="4.70" height="73.00" fill="#fff" stroke="#111" stroke-width="1.0"/>
<rect x="455.40" y="317.04" width="5.60" height="42.66" fill="#000"/>
<text transform="translate(449.65 373.20) scale(1.0 1)" font-size="7.9" font-weight="normal" text-anchor="middle" stroke="#000" stroke-width="0.4">6</text>
<line x1="32.5" y1="328.80" x2="472.8" y2="328.80" stroke="#111" stroke-width="1.25" stroke-dasharray="2.9 1.5"/>
<text transform="translate(56.30 319.65) scale(1.0 1)" font-size="7.85" font-weight="bold" text-anchor="middle" stroke="#000" stroke-width="0.2">1.2</text>
<text transform="translate(87.20 321.20) scale(1.0 1)" font-size="7.85" font-weight="bold" text-anchor="middle" stroke="#000" stroke-width="0.2">1.1</text>
<text transform="translate(118.10 325.10) scale(1.0 1)" font-size="7.85" font-weight="bold" text-anchor="middle" stroke="#000" stroke-width="0.2">0.8</text>
<text transform="translate(149.00 330.20) scale(1.0 1)" font-size="7.85" font-weight="bold" text-anchor="middle" stroke="#000" stroke-width="0.2">0.6</text>
<text transform="translate(210.80 292.22) scale(1.0 1)" font-size="7.85" font-weight="bold" text-anchor="middle" stroke="#000" stroke-width="0.2">9.2</text>
<text transform="translate(241.70 298.60) scale(1.0 1)" font-size="7.85" font-weight="bold" text-anchor="middle" stroke="#000" stroke-width="0.2">5.9</text>
<text transform="translate(272.60 304.49) scale(1.0 1)" font-size="7.85" font-weight="bold" text-anchor="middle" stroke="#000" stroke-width="0.2">3.7</text>
<text transform="translate(303.50 310.89) scale(1.0 1)" font-size="7.85" font-weight="bold" text-anchor="middle" stroke="#000" stroke-width="0.2">2.3</text>
<text transform="translate(365.30 301.26) scale(1.0 1)" font-size="7.85" font-weight="bold" text-anchor="middle" stroke="#000" stroke-width="0.2">4.7</text>
<text transform="translate(396.20 304.13) scale(1.0 1)" font-size="7.85" font-weight="bold" text-anchor="middle" stroke="#000" stroke-width="0.2">3.8</text>
<text transform="translate(427.10 309.24) scale(1.0 1)" font-size="7.85" font-weight="bold" text-anchor="middle" stroke="#000" stroke-width="0.2">2.6</text>
<text transform="translate(458.00 310.89) scale(1.0 1)" font-size="7.85" font-weight="bold" text-anchor="middle" stroke="#000" stroke-width="0.2">2.4</text>
<path d="M36.30 260.30V243.00H149.30V260.30" fill="none" stroke="#111" stroke-width="1.1"/>
<text transform="translate(79.60 256.40) scale(1.0 1)" font-size="8.0" font-weight="bold" text-anchor="start" stroke="#000" stroke-width="0.2" textLength="28.80" lengthAdjust="spacingAndGlyphs">MDCKII</text>
<path d="M194.00 261.50V242.80H307.00V261.50" fill="none" stroke="#111" stroke-width="1.1"/>
<text transform="translate(223.60 257.00) scale(1.0 1)" font-size="8.0" font-weight="bold" text-anchor="start" stroke="#000" stroke-width="0.2" textLength="58.20" lengthAdjust="spacingAndGlyphs">MDCKII-ABCB1</text>
<path d="M347.80 261.00V242.80H460.80V261.00" fill="none" stroke="#111" stroke-width="1.1"/>
<text transform="translate(375.30 256.60) scale(1.0 1)" font-size="8.0" font-weight="bold" text-anchor="start" stroke="#000" stroke-width="0.2" textLength="58.80" lengthAdjust="spacingAndGlyphs">MDCKII-ABCG2</text>
<text transform="translate(188.60 389.80) scale(1.0 1)" font-size="9.6" font-weight="normal" text-anchor="start" stroke="#000" stroke-width="0.4" textLength="111.80" lengthAdjust="spacingAndGlyphs">pH on the basolateral side</text>
<rect x="477.80" y="304.50" width="3.6" height="3.6" fill="none" stroke="#111" stroke-width="1.0"/>
<text x="483.70" y="309.60" font-size="10.0" font-style="italic" stroke="#000" stroke-width="0.4">P</text>
<text x="490.90" y="312.10" font-size="7.3" stroke="#000" stroke-width="0.4" textLength="26.3" lengthAdjust="spacingAndGlyphs">app,A-B</text>
<rect x="477.80" y="320.90" width="3.6" height="3.6" fill="#fff" stroke="#111" stroke-width="1.0"/>
<text x="483.70" y="325.80" font-size="10.0" font-style="italic" stroke="#000" stroke-width="0.4">P</text>
<text x="490.90" y="328.30" font-size="7.3" stroke="#000" stroke-width="0.4" textLength="26.3" lengthAdjust="spacingAndGlyphs">app,B-A</text>
<rect x="478.4" y="338.1" width="3.5" height="3.5" fill="#000"/>
<text transform="translate(483.80 342.50) scale(1.03 1)" font-size="9.3" font-weight="normal" text-anchor="start" stroke="#000" stroke-width="0.4">ER</text>
</svg>
</body></html>
